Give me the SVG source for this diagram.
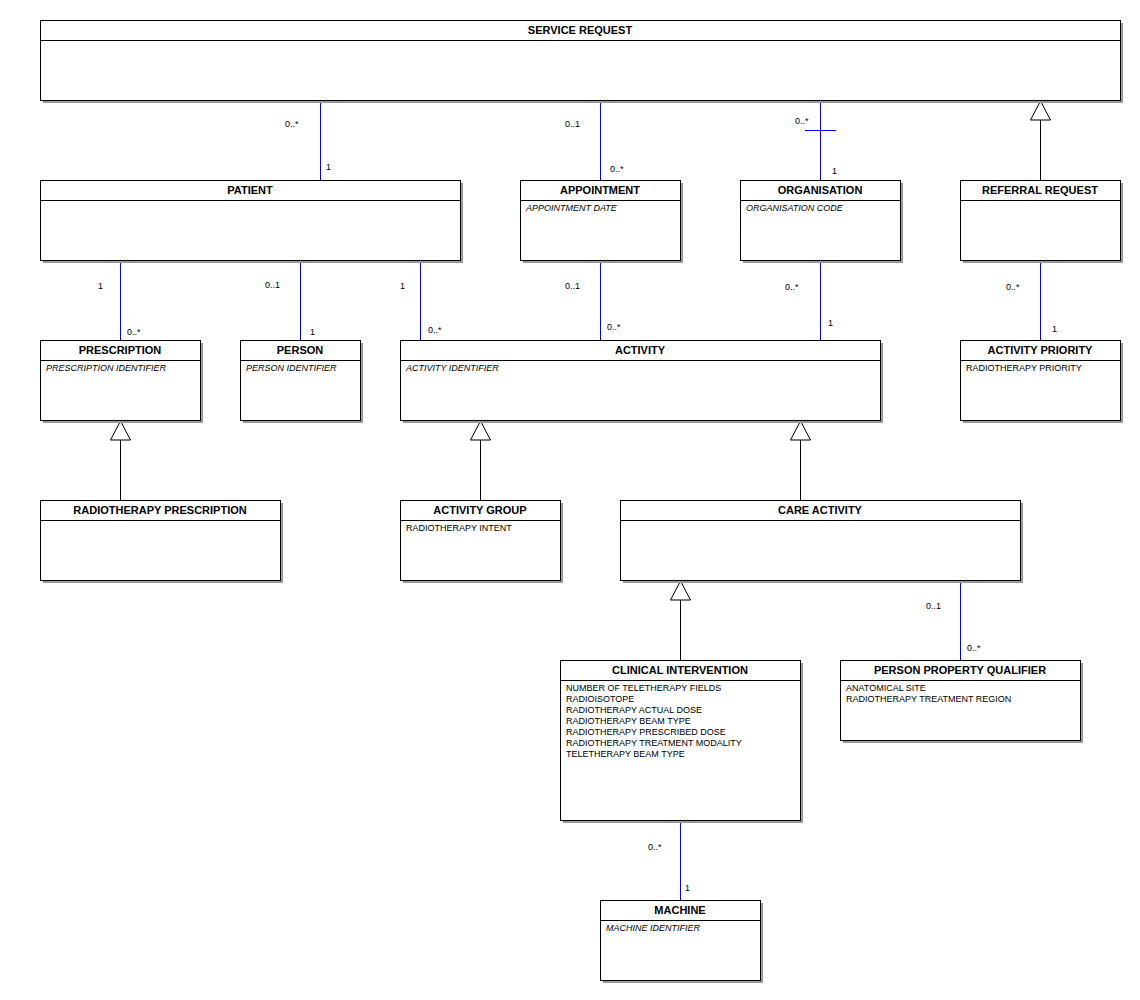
<svg xmlns="http://www.w3.org/2000/svg" width="1140" height="1000" viewBox="0 0 1140 1000">
<style>
.sh{fill:#999}
.bx{fill:#fff;stroke:#000;stroke-width:1}
.hd{font:bold 11px "Liberation Sans",Arial,sans-serif;text-anchor:middle}
.at{font:9px "Liberation Sans",Arial,sans-serif}
.it{font:italic 9px "Liberation Sans",Arial,sans-serif}
.lb{font:9px "Liberation Sans",Arial,sans-serif}
.as{stroke:#00f;stroke-width:1;fill:none}
.ge{stroke:#000;stroke-width:1;fill:none}
.tri{fill:#fff;stroke:#000}
</style>
<rect width="1140" height="1000" fill="#fff"/>
<g id="connectors">
<line class="as" x1="320.5" y1="100" x2="320.5" y2="180"/><text class="lb" x="285" y="127">0..*</text><text class="lb" x="326" y="170">1</text>
<line class="as" x1="600.5" y1="100" x2="600.5" y2="180"/><text class="lb" x="565" y="127">0..1</text><text class="lb" x="610" y="172">0..*</text>
<line class="as" x1="820.5" y1="100" x2="820.5" y2="180"/><line class="as" x1="805" y1="130.5" x2="836" y2="130.5"/><text class="lb" x="795" y="124">0..*</text><text class="lb" x="832" y="174">1</text>
<line class="ge" x1="1040.5" y1="120" x2="1040.5" y2="180"/><polygon class="tri" points="1040.5,101 1030.5,120 1050.5,120"/>
<line class="as" x1="120.5" y1="260" x2="120.5" y2="340"/><text class="lb" x="98" y="289">1</text><text class="lb" x="127" y="335">0..*</text>
<line class="as" x1="300.5" y1="260" x2="300.5" y2="340"/><text class="lb" x="265" y="288">0..1</text><text class="lb" x="310" y="335">1</text>
<line class="as" x1="420.5" y1="260" x2="420.5" y2="340"/><text class="lb" x="400" y="289">1</text><text class="lb" x="428" y="333">0..*</text>
<line class="as" x1="600.5" y1="260" x2="600.5" y2="340"/><text class="lb" x="565" y="289">0..1</text><text class="lb" x="607" y="330">0..*</text>
<line class="as" x1="820.5" y1="260" x2="820.5" y2="340"/><text class="lb" x="785" y="290">0..*</text><text class="lb" x="828" y="326">1</text>
<line class="as" x1="1040.5" y1="260" x2="1040.5" y2="340"/><text class="lb" x="1006" y="290">0..*</text><text class="lb" x="1052" y="332">1</text>
<line class="ge" x1="120.5" y1="440" x2="120.5" y2="500"/><polygon class="tri" points="120.5,421 110.5,440 130.5,440"/>
<line class="ge" x1="480.5" y1="440" x2="480.5" y2="500"/><polygon class="tri" points="480.5,421 470.5,440 490.5,440"/>
<line class="ge" x1="800.5" y1="440" x2="800.5" y2="500"/><polygon class="tri" points="800.5,421 790.5,440 810.5,440"/>
<line class="ge" x1="680.5" y1="600" x2="680.5" y2="660"/><polygon class="tri" points="680.5,581 670.5,600 690.5,600"/>
<line class="as" x1="960.5" y1="580" x2="960.5" y2="660"/><text class="lb" x="926" y="609">0..1</text><text class="lb" x="967" y="651">0..*</text>
<line class="as" x1="680.5" y1="820" x2="680.5" y2="900"/><text class="lb" x="648" y="850">0..*</text><text class="lb" x="685" y="891">1</text>
</g>
<g id="service-request"><rect class="sh" x="43" y="23" width="1080" height="80"/><rect class="bx" x="40.5" y="20.5" width="1080" height="80"/><line class="ge" x1="40" y1="40.5" x2="1120" y2="40.5"/><text class="hd" x="580" y="34">SERVICE REQUEST</text></g>
<g id="patient"><rect class="sh" x="43" y="183" width="420" height="80"/><rect class="bx" x="40.5" y="180.5" width="420" height="80"/><line class="ge" x1="40" y1="200.5" x2="460" y2="200.5"/><text class="hd" x="250" y="194">PATIENT</text></g>
<g id="appointment"><rect class="sh" x="523" y="183" width="160" height="80"/><rect class="bx" x="520.5" y="180.5" width="160" height="80"/><line class="ge" x1="520" y1="200.5" x2="680" y2="200.5"/><text class="hd" x="600" y="194">APPOINTMENT</text><text class="it" x="526" y="211">APPOINTMENT DATE</text></g>
<g id="organisation"><rect class="sh" x="743" y="183" width="160" height="80"/><rect class="bx" x="740.5" y="180.5" width="160" height="80"/><line class="ge" x1="740" y1="200.5" x2="900" y2="200.5"/><text class="hd" x="820" y="194">ORGANISATION</text><text class="it" x="746" y="211">ORGANISATION CODE</text></g>
<g id="referral-request"><rect class="sh" x="963" y="183" width="160" height="80"/><rect class="bx" x="960.5" y="180.5" width="160" height="80"/><line class="ge" x1="960" y1="200.5" x2="1120" y2="200.5"/><text class="hd" x="1040" y="194">REFERRAL REQUEST</text></g>
<g id="prescription"><rect class="sh" x="43" y="343" width="160" height="80"/><rect class="bx" x="40.5" y="340.5" width="160" height="80"/><line class="ge" x1="40" y1="360.5" x2="200" y2="360.5"/><text class="hd" x="120" y="354">PRESCRIPTION</text><text class="it" x="46" y="371">PRESCRIPTION IDENTIFIER</text></g>
<g id="person"><rect class="sh" x="243" y="343" width="120" height="80"/><rect class="bx" x="240.5" y="340.5" width="120" height="80"/><line class="ge" x1="240" y1="360.5" x2="360" y2="360.5"/><text class="hd" x="300" y="354">PERSON</text><text class="it" x="246" y="371">PERSON IDENTIFIER</text></g>
<g id="activity"><rect class="sh" x="403" y="343" width="480" height="80"/><rect class="bx" x="400.5" y="340.5" width="480" height="80"/><line class="ge" x1="400" y1="360.5" x2="880" y2="360.5"/><text class="hd" x="640" y="354">ACTIVITY</text><text class="it" x="406" y="371">ACTIVITY IDENTIFIER</text></g>
<g id="activity-priority"><rect class="sh" x="963" y="343" width="160" height="80"/><rect class="bx" x="960.5" y="340.5" width="160" height="80"/><line class="ge" x1="960" y1="360.5" x2="1120" y2="360.5"/><text class="hd" x="1040" y="354">ACTIVITY PRIORITY</text><text class="at" x="966" y="371">RADIOTHERAPY PRIORITY</text></g>
<g id="radiotherapy-prescription"><rect class="sh" x="43" y="503" width="240" height="80"/><rect class="bx" x="40.5" y="500.5" width="240" height="80"/><line class="ge" x1="40" y1="520.5" x2="280" y2="520.5"/><text class="hd" x="160" y="514">RADIOTHERAPY PRESCRIPTION</text></g>
<g id="activity-group"><rect class="sh" x="403" y="503" width="160" height="80"/><rect class="bx" x="400.5" y="500.5" width="160" height="80"/><line class="ge" x1="400" y1="520.5" x2="560" y2="520.5"/><text class="hd" x="480" y="514">ACTIVITY GROUP</text><text class="at" x="406" y="531">RADIOTHERAPY INTENT</text></g>
<g id="care-activity"><rect class="sh" x="623" y="503" width="400" height="80"/><rect class="bx" x="620.5" y="500.5" width="400" height="80"/><line class="ge" x1="620" y1="520.5" x2="1020" y2="520.5"/><text class="hd" x="820" y="514">CARE ACTIVITY</text></g>
<g id="clinical-intervention"><rect class="sh" x="563" y="663" width="240" height="160"/><rect class="bx" x="560.5" y="660.5" width="240" height="160"/><line class="ge" x1="560" y1="680.5" x2="800" y2="680.5"/><text class="hd" x="680" y="674">CLINICAL INTERVENTION</text>
<text class="at" x="566" y="691">NUMBER OF TELETHERAPY FIELDS</text><text class="at" x="566" y="702">RADIOISOTOPE</text><text class="at" x="566" y="713">RADIOTHERAPY ACTUAL DOSE</text><text class="at" x="566" y="724">RADIOTHERAPY BEAM TYPE</text><text class="at" x="566" y="735">RADIOTHERAPY PRESCRIBED DOSE</text><text class="at" x="566" y="746">RADIOTHERAPY TREATMENT MODALITY</text><text class="at" x="566" y="757">TELETHERAPY BEAM TYPE</text></g>
<g id="person-property-qualifier"><rect class="sh" x="843" y="663" width="240" height="80"/><rect class="bx" x="840.5" y="660.5" width="240" height="80"/><line class="ge" x1="840" y1="680.5" x2="1080" y2="680.5"/><text class="hd" x="960" y="674">PERSON PROPERTY QUALIFIER</text><text class="at" x="846" y="691">ANATOMICAL SITE</text><text class="at" x="846" y="702">RADIOTHERAPY TREATMENT REGION</text></g>
<g id="machine"><rect class="sh" x="603" y="903" width="160" height="80"/><rect class="bx" x="600.5" y="900.5" width="160" height="80"/><line class="ge" x1="600" y1="920.5" x2="760" y2="920.5"/><text class="hd" x="680" y="914">MACHINE</text><text class="it" x="606" y="931">MACHINE IDENTIFIER</text></g>
</svg>
